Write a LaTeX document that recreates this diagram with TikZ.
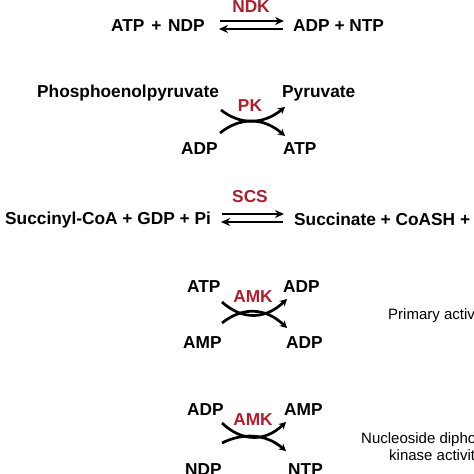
\documentclass[tikz,border=0pt]{standalone}
\usepackage{fontspec}
\setmainfont{Liberation Sans}
\usetikzlibrary{arrows.meta}
\definecolor{enz}{RGB}{178,28,44}
\tikzset{
  lab/.style={inner sep=0pt, anchor=base west, font=\fontsize{17.3bp}{20bp}\selectfont\bfseries},
  enzyme/.style={inner sep=0pt, anchor=base, text=enz, font=\fontsize{17.3bp}{20bp}\selectfont\bfseries},
  note/.style={inner sep=0pt, anchor=base west, font=\fontsize{15bp}{18bp}\selectfont},
  eqarrow/.style={line width=2.2bp, -{Stealth[length=9bp,width=8bp]}},
  swoop/.style={line width=2.7bp, -{Stealth[length=7bp,width=7.5bp]}}
}
\begin{document}
\begin{tikzpicture}[x=1bp,y=-1bp]
\useasboundingbox (0,0) rectangle (474,474);
\clip (0,0) rectangle (474,474);

% Row 1: NDK
\node[lab] (r1l) at (111,32) {ATP\hspace{2bp} + \hspace{2bp}NDP};
\node[lab] (r1r) at (293,32) {ADP + NTP};
\node[enzyme] (ndk) at (251,13) {NDK};
\coordinate (ndkA) at (220,21);
\coordinate (ndkB) at (284,21);
\coordinate (ndkC) at (283,29);
\coordinate (ndkD) at (219,29);
\draw[eqarrow] (ndkA) -- (ndkB);
\draw[eqarrow] (ndkC) -- (ndkD);

% Row 2: PK
\node[lab] (pep) at (37,98) {Phosphoenolpyruvate};
\node[lab] (pyr) at (282,98) {Pyruvate};
\node[enzyme] (pk) at (250,112) {PK};
\node[lab] (adp2) at (181,155) {ADP};
\node[lab] (atp2) at (283,155) {ATP};
\coordinate (pkA) at (221,110);
\coordinate (pkB) at (285,107);
\coordinate (pkC) at (220,133);
\coordinate (pkD) at (285,136);
\draw[swoop] (pkA) .. controls (240,125) and (263,125) .. (pkB);
\draw[swoop] (pkC) .. controls (240,117) and (263,117) .. (pkD);

% Row 3: SCS
\node[lab] (suc) at (5,225) {Succinyl-CoA + GDP + Pi};
\node[lab] (sucr) at (294,226) {Succinate + CoASH + GTP};
\node[enzyme] (scs) at (250,203) {SCS};
\coordinate (scsA) at (222,214);
\coordinate (scsB) at (284,214);
\coordinate (scsC) at (283,222);
\coordinate (scsD) at (221,222);
\draw[eqarrow] (scsA) -- (scsB);
\draw[eqarrow] (scsC) -- (scsD);

% Row 4: AMK primary
\node[lab] (atp4) at (187,292) {ATP};
\node[lab] (adp4a) at (283,292) {ADP};
\node[lab] (amp4) at (183,348) {AMP};
\node[lab] (adp4b) at (286,348) {ADP};
\node[enzyme] (amk4) at (253,302) {AMK};
\coordinate (amkA) at (222,302);
\coordinate (amkB) at (287,299);
\coordinate (amkC) at (222,323);
\coordinate (amkD) at (287,328);
\draw[swoop] (amkA) .. controls (242,320) and (265,320) .. (amkB);
\draw[swoop] (amkC) .. controls (242,307) and (265,307) .. (amkD);
\node[note] (prim) at (388,319) {Primary activity};

% Row 5: AMK nucleoside diphosphate kinase activity
\node[lab] (adp5) at (187,415) {ADP};
\node[lab] (amp5) at (284,415) {AMP};
\node[lab] (ndp5) at (185,475) {NDP};
\node[lab] (ntp5) at (288,475) {NTP};
\node[enzyme] (amk5) at (253,425) {AMK};
\coordinate (amkE) at (222,423);
\coordinate (amkF) at (286,422);
\coordinate (amkG) at (222,443);
\coordinate (amkH) at (286,451);
\draw[swoop] (amkE) .. controls (242,442) and (265,442) .. (amkF);
\draw[swoop] (amkG) .. controls (242,433) and (265,433) .. (amkH);
\node[note] (nuc1) at (361,443) {Nucleoside diphosphate};
\node[note] (nuc2) at (389,460) {kinase activity};
\end{tikzpicture}
\end{document}
